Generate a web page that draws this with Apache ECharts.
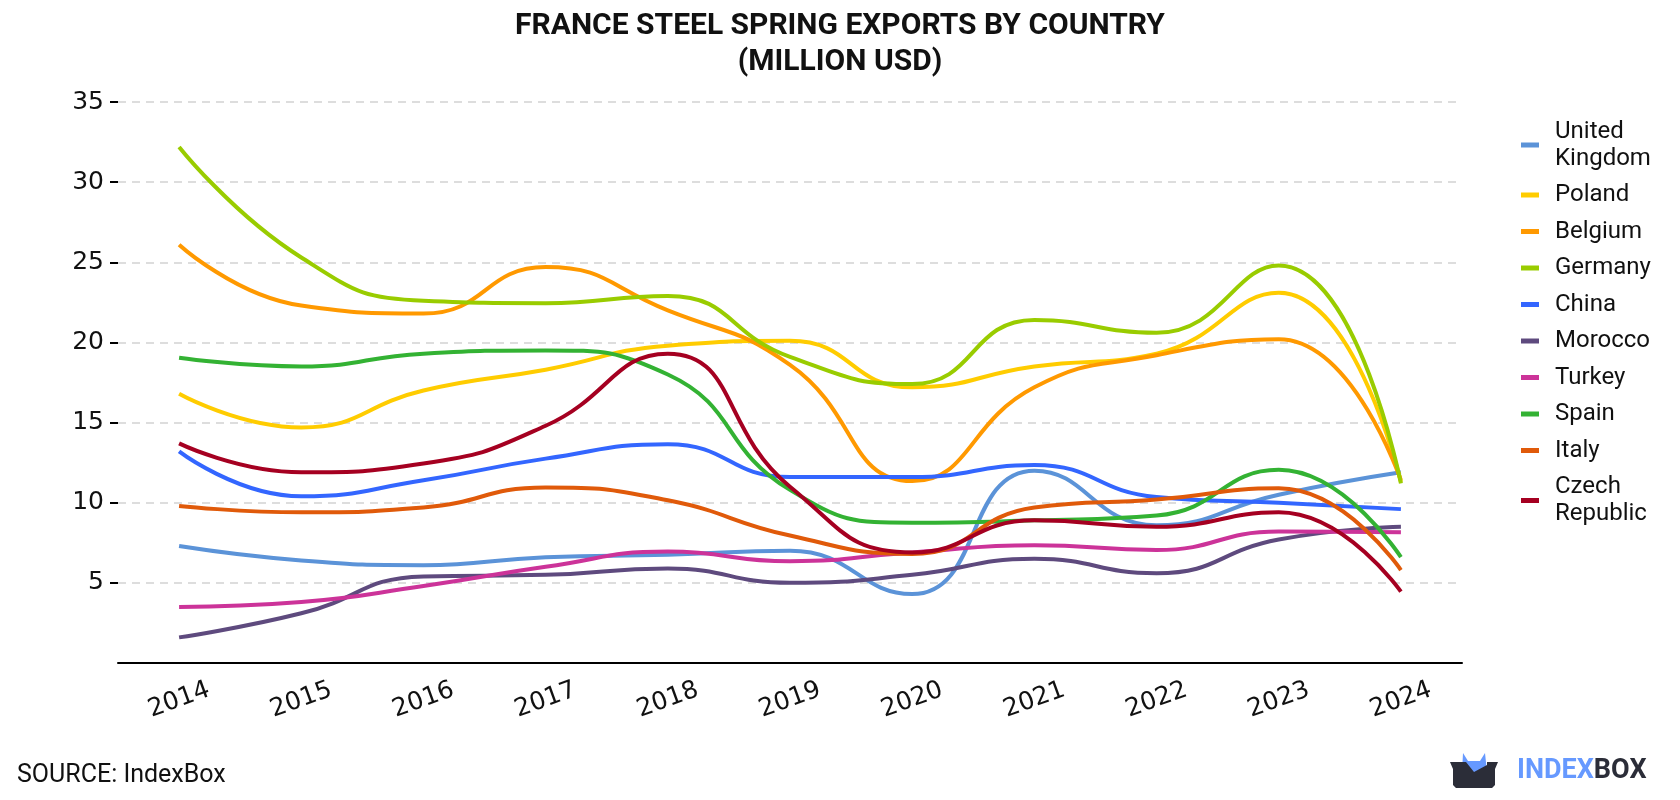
<!DOCTYPE html>
<html>
<head>
<meta charset="utf-8">
<script src="https://cdn.jsdelivr.net/npm/echarts@6/dist/echarts.min.js"></script>
<style>
  html, body { margin: 0; padding: 0; background: #fff; }
  #chart { width: 1680px; height: 800px; }
</style>
</head>
<body>
<div id="chart"></div>
<script>
var years = ['2014', '2015', '2016', '2017', '2018', '2019', '2020', '2021', '2022', '2023', '2024'];
var yTicks = [5, 10, 15, 20, 25, 30, 35];

var unitedKingdom = [7.3, 6.4, 6.1, 6.6, 6.75, 7.0, 4.3, 12.0, 8.6, 10.5, 11.9];
var poland = [16.8, 14.7, 17.0, 18.3, 19.8, 20.1, 17.2, 18.5, 19.3, 23.1, 11.3];
var belgium = [26.1, 22.3, 21.8, 24.7, 22.0, 18.6, 11.35, 17.2, 19.2, 20.2, 11.4];
var germany = [32.2, 25.3, 22.6, 22.45, 22.9, 19.1, 17.4, 21.4, 20.6, 24.8, 11.2];
var china = [13.2, 10.4, 11.4, 12.75, 13.65, 11.6, 11.6, 12.35, 10.35, 10.0, 9.6];
var morocco = [1.6, 3.1, 5.4, 5.5, 5.9, 5.0, 5.5, 6.5, 5.6, 7.7, 8.5];
var turkey = [3.5, 3.8, 4.8, 6.0, 6.95, 6.35, 6.9, 7.35, 7.05, 8.2, 8.15];
var spain = [19.05, 18.5, 19.3, 19.5, 18.0, 10.8, 8.75, 8.9, 9.2, 12.05, 6.6];
var italy = [9.8, 9.4, 9.7, 10.95, 10.15, 7.95, 6.8, 9.7, 10.2, 10.9, 5.8];
var czechRepublic = [13.7, 11.9, 12.45, 14.8, 19.3, 11.0, 6.9, 8.9, 8.5, 9.4, 4.45];

var seriesList = [
  ['United\nKingdom', unitedKingdom, '#5b93d8'],
  ['Poland', poland, '#ffcc00'],
  ['Belgium', belgium, '#ff9900'],
  ['Germany', germany, '#99cc00'],
  ['China', china, '#3366ff'],
  ['Morocco', morocco, '#5e4a7e'],
  ['Turkey', turkey, '#cc3399'],
  ['Spain', spain, '#33b233'],
  ['Italy', italy, '#e05a0a'],
  ['Czech\nRepublic', czechRepublic, '#a50021']
];

var font = 'Roboto, "Noto Sans", sans-serif';
var tickFont = '"DejaVu Sans", sans-serif';

var myChart = echarts.init(document.getElementById('chart'));

var option = {
  backgroundColor: '#fff',
  animation: false,
  textStyle: { fontFamily: font },
  title: {
    text: 'FRANCE STEEL SPRING EXPORTS BY COUNTRY\n(MILLION USD)',
    left: 'center',
    top: 8,
    padding: 0,
    textStyle: { fontSize: 30, fontWeight: 'bold', color: '#111', lineHeight: 36, fontFamily: font }
  },
  legend: {
    orient: 'vertical',
    left: 1521,
    top: 118,
    padding: 0,
    icon: 'rect',
    itemWidth: 18,
    itemHeight: 5,
    itemGap: 9.5,
    textStyle: { fontSize: 24, color: '#111', lineHeight: 27, padding: [0, 0, 0, 11], fontFamily: font },
    data: seriesList.map(function (s) { return s[0]; })
  },
  grid: { left: 118, right: 218, top: 102, bottom: 137 },
  xAxis: {
    type: 'category',
    data: years,
    boundaryGap: true,
    axisLine: { lineStyle: { color: '#000', width: 2 } },
    axisTick: { alignWithLabel: true, length: 7, lineStyle: { color: '#000', width: 2 } },
    axisLabel: {
      rotate: 20, fontSize: 25, color: '#111', margin: 37,
      align: 'center', verticalAlign: 'middle', fontFamily: tickFont
    }
  },
  yAxis: {
    type: 'value',
    min: 0,
    max: 35,
    interval: 5,
    axisLine: { show: false },
    axisTick: { show: true, length: 8, customValues: yTicks, lineStyle: { color: '#000', width: 2 } },
    axisLabel: { fontSize: 25, color: '#111', margin: 14, customValues: yTicks, fontFamily: tickFont },
    splitLine: { lineStyle: { color: '#dddddd', width: 2, type: [8, 6] } }
  },
  series: seriesList.map(function (s) {
    return {
      name: s[0],
      type: 'line',
      data: s[1],
      smooth: 0.5,
      symbol: 'none',
      color: s[2],
      lineStyle: { width: 4, color: s[2] }
    };
  }),
  graphic: [
    {
      type: 'text',
      left: 17,
      top: 763,
      style: { text: 'SOURCE: IndexBox', font: '25px ' + font, fill: '#111' }
    },
    {
      type: 'polygon',
      shape: { points: [[1462, 772], [1463, 753], [1468, 761], [1480, 761], [1485, 753], [1487, 772]] },
      style: { fill: '#6699ff' }
    },
    {
      type: 'polygon',
      shape: { points: [[1450, 762], [1466, 762], [1474, 772], [1487, 765], [1487, 762], [1498, 762], [1495, 769], [1495, 785], [1492, 788], [1456, 788], [1453, 785], [1453, 769]] },
      style: { fill: '#2b2d38' }
    },
    {
      type: 'text',
      left: 1517,
      top: 758,
      style: {
        text: '{a|INDEX}{b|BOX}',
        rich: {
          a: { fontSize: 27, fontWeight: 'bold', fill: '#6699ff', fontFamily: font },
          b: { fontSize: 27, fontWeight: 'bold', fill: '#2b2d38', fontFamily: font }
        }
      }
    }
  ]
};

myChart.setOption(option);
</script>
</body>
</html>
